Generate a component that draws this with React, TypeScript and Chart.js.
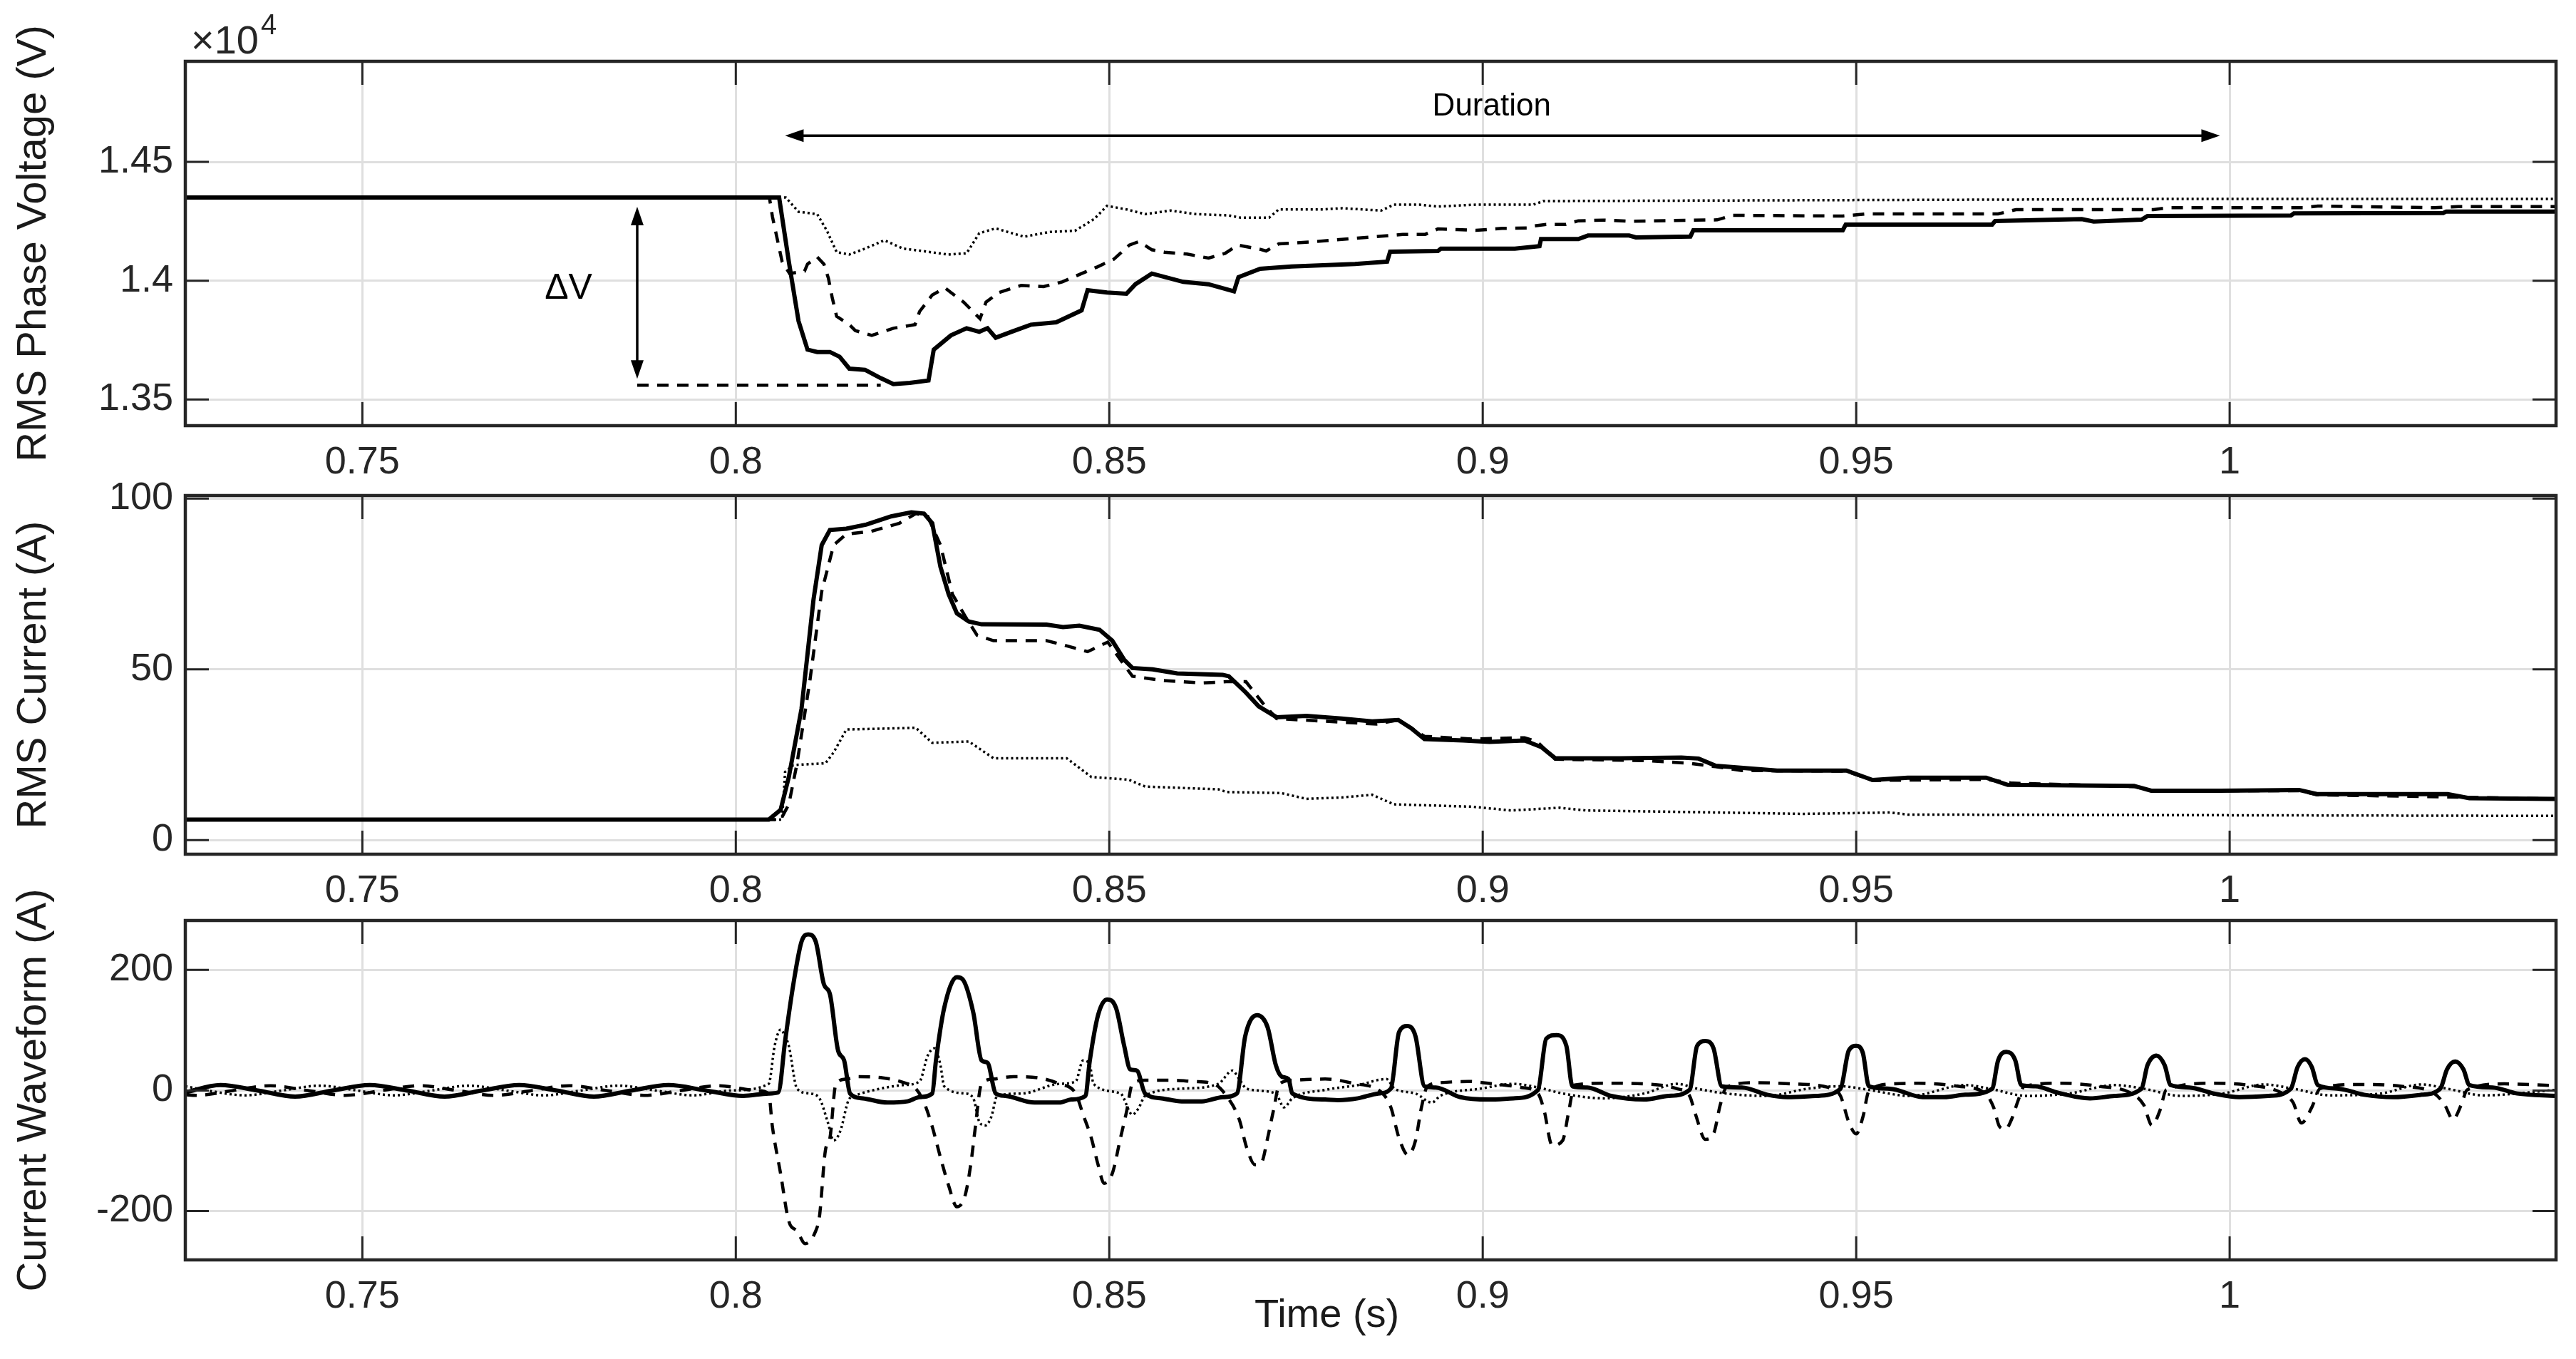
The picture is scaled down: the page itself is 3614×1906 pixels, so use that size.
import { useEffect, useRef } from "react";
import { Chart, registerables } from "chart.js";

Chart.register(...registerables);

const FONT = "'Liberation Sans', Arial, Helvetica, sans-serif";
const INK = "#262626";
const GRID = "#dfdfdf";
const W = 3614;

type Pt = [number, number];
type LineKind = "solid" | "dashed" | "dotted";

// shared time axis
const X_MIN = 0.7263;
const X_MAX = 1.0437;
const timeTicks = [0.75, 0.8, 0.85, 0.9, 0.95, 1];

// ---- panel 1: RMS phase voltage (V) ----
const voltTicks = [13500, 14000, 14500];
const voltSolid: Pt[] = [
  [0.7263, 14350], [0.8058, 14350], [0.8071, 14080], [0.8084, 13830], [0.8096, 13710], [0.8109, 13700],
  [0.8126, 13700], [0.8139, 13680], [0.8152, 13630], [0.8173, 13625], [0.8194, 13590], [0.8211, 13565],
  [0.8233, 13570], [0.8258, 13580], [0.8265, 13710], [0.8288, 13770], [0.8309, 13800], [0.8326, 13785],
  [0.8337, 13800], [0.8348, 13760], [0.8369, 13785], [0.8395, 13815], [0.8429, 13825], [0.8463, 13875],
  [0.8471, 13960], [0.8497, 13950], [0.8523, 13945], [0.8535, 13985], [0.8557, 14030], [0.8599, 13995],
  [0.8633, 13985], [0.8667, 13955], [0.8673, 14015], [0.8702, 14050], [0.8744, 14060], [0.8829, 14070],
  [0.8872, 14080], [0.8876, 14122], [0.894, 14125], [0.8944, 14135], [0.9043, 14135], [0.9076, 14145],
  [0.9078, 14175], [0.9128, 14175], [0.9141, 14190], [0.9196, 14190], [0.9205, 14182], [0.9278, 14186],
  [0.9282, 14212], [0.9482, 14212], [0.9486, 14236], [0.9682, 14236], [0.9686, 14251], [0.9802, 14259],
  [0.9818, 14249], [0.9882, 14257], [0.989, 14272], [1.0082, 14274], [1.0086, 14283], [1.0286, 14285],
  [1.029, 14291], [1.0437, 14291],
];
const voltDashed: Pt[] = [
  [0.7263, 14350], [0.8045, 14350], [0.8049, 14270], [0.8062, 14080], [0.8072, 14030], [0.8092, 14040],
  [0.8096, 14070], [0.8109, 14100], [0.8118, 14070], [0.8124, 14010], [0.8129, 13930], [0.8135, 13850],
  [0.8152, 13815], [0.816, 13790], [0.8182, 13770], [0.8211, 13800], [0.824, 13815], [0.8246, 13870],
  [0.8263, 13940], [0.828, 13970], [0.8288, 13950], [0.8305, 13910], [0.8327, 13840], [0.8335, 13910],
  [0.8352, 13950], [0.8382, 13980], [0.8412, 13975], [0.8437, 13995], [0.8463, 14030], [0.8484, 14058],
  [0.8506, 14090], [0.8527, 14150], [0.854, 14165], [0.8557, 14130], [0.8574, 14120], [0.8604, 14112],
  [0.8633, 14095], [0.8655, 14115], [0.8672, 14150], [0.8702, 14132], [0.871, 14125], [0.8727, 14155],
  [0.8778, 14165], [0.8808, 14173], [0.8864, 14187], [0.8893, 14195], [0.8923, 14195], [0.894, 14218],
  [0.8966, 14215], [0.8991, 14212], [0.9026, 14220], [0.906, 14222], [0.9068, 14230], [0.9085, 14237],
  [0.9111, 14237], [0.9128, 14252], [0.9162, 14255], [0.9196, 14250], [0.9314, 14256], [0.9334, 14275],
  [0.9482, 14272], [0.9514, 14281], [0.969, 14281], [0.9714, 14299], [0.9898, 14299], [0.9918, 14307],
  [1.0098, 14307], [1.0118, 14314], [1.0274, 14307], [1.0306, 14312], [1.0437, 14312],
];
const voltDotted: Pt[] = [
  [0.7263, 14350], [0.8067, 14350], [0.8084, 14290], [0.8109, 14280], [0.8122, 14210], [0.8135, 14120],
  [0.8152, 14110], [0.8173, 14135], [0.8199, 14170], [0.8224, 14135], [0.825, 14125], [0.8284, 14110],
  [0.8309, 14115], [0.8326, 14200], [0.8348, 14220], [0.8386, 14185], [0.842, 14205], [0.8454, 14210],
  [0.848, 14260], [0.8497, 14315], [0.8523, 14300], [0.8548, 14280], [0.8582, 14295], [0.8616, 14280],
  [0.8659, 14275], [0.8676, 14265], [0.8714, 14265], [0.8727, 14300], [0.8786, 14300], [0.8812, 14305],
  [0.8864, 14295], [0.8881, 14320], [0.8915, 14320], [0.894, 14312], [0.8991, 14320], [0.9068, 14320],
  [0.9081, 14335], [0.9786, 14342], [0.9874, 14344], [1.0437, 14344],
];
// annotations (data units)
const durationSpan = [0.8066, 0.9987];
const durationLevel = 14610;
const durationText = [0.9012, 14731];
const deltaVTime = 0.7868;
const deltaVSpan = [13587, 14311];
const deltaVText = [0.7776, 13965];
const dipRef = [0.7868, 0.8194, 13560];

// ---- panel 2: RMS current (A) ----
const ampTicks = [0, 50, 100];
const rmsSolid: Pt[] = [
  [0.7263, 6], [0.8044, 6], [0.806, 8.9], [0.8071, 18.5], [0.8088, 38.5], [0.8104, 70.4], [0.8115, 86.4],
  [0.8126, 90.8], [0.8148, 91.2], [0.8175, 92.4], [0.8208, 94.8], [0.8235, 96], [0.8252, 95.6],
  [0.8263, 92.8], [0.8274, 80], [0.8285, 72], [0.8296, 66.4], [0.8312, 64], [0.8329, 63.2], [0.8416, 63.1],
  [0.8438, 62.4], [0.846, 62.8], [0.8487, 61.6], [0.8504, 58.4], [0.852, 52.8], [0.8531, 50.4],
  [0.8558, 50], [0.8591, 48.8], [0.8652, 48.4], [0.866, 48], [0.8683, 43.2], [0.87, 39.2], [0.8724, 36],
  [0.8764, 36.4], [0.8811, 35.6], [0.8852, 34.8], [0.8887, 35.2], [0.8904, 32.8], [0.8922, 29.6],
  [0.8974, 29.2], [0.9009, 28.8], [0.9056, 29.2], [0.9079, 27.2], [0.9097, 24], [0.9184, 24],
  [0.9266, 24.2], [0.9289, 23.9], [0.9312, 21.8], [0.9394, 20.4], [0.9487, 20.4], [0.9522, 17.6],
  [0.9569, 18.3], [0.9674, 18.3], [0.9703, 16.2], [0.9872, 15.9], [0.9895, 14.5], [0.9988, 14.5],
  [1.0093, 14.7], [1.0117, 13.5], [1.0292, 13.5], [1.0321, 12.3], [1.0437, 12.1],
];
const rmsDashed: Pt[] = [
  [0.7263, 6], [0.806, 6], [0.8071, 10.5], [0.8082, 22.5], [0.8099, 46.4], [0.8115, 72.8], [0.8131, 86.4],
  [0.8148, 89.6], [0.8181, 90.4], [0.8219, 92.8], [0.8241, 95.6], [0.8257, 94.8], [0.8274, 86.4],
  [0.829, 72], [0.8307, 65.6], [0.8323, 60], [0.8345, 58.4], [0.8416, 58.4], [0.8438, 57.2],
  [0.8471, 55.2], [0.8498, 58], [0.8515, 52.8], [0.8531, 48], [0.857, 46.8], [0.8624, 46], [0.8657, 46.4],
  [0.8683, 46.4], [0.8706, 40], [0.8724, 35.6], [0.8858, 34], [0.8887, 35.2], [0.8922, 30.4],
  [0.8986, 29.6], [0.9056, 30], [0.9073, 28.8], [0.9097, 23.7], [0.9219, 23.3], [0.9277, 22.5],
  [0.9312, 21.5], [0.9347, 20.4], [0.9487, 20.2], [0.9522, 17.5], [0.9674, 17.8], [0.9709, 16.7],
  [0.9872, 15.7], [0.9895, 14.5], [1.0093, 14.5], [1.0117, 13.3], [1.0437, 12.1],
];
const rmsDotted: Pt[] = [
  [0.7263, 6], [0.8062, 6], [0.8066, 20], [0.8077, 22], [0.812, 22.5], [0.8131, 25.7], [0.8148, 32.4],
  [0.8241, 32.9], [0.8263, 28.5], [0.8312, 28.9], [0.8345, 24], [0.8443, 24], [0.8476, 18.5],
  [0.8526, 17.7], [0.8548, 15.7], [0.8646, 14.9], [0.8657, 14.1], [0.873, 13.8], [0.8764, 12.1],
  [0.8811, 12.5], [0.8852, 13.3], [0.8881, 10.5], [0.8986, 9.8], [0.9038, 8.7], [0.9103, 9.5],
  [0.9138, 8.7], [0.9289, 8.2], [0.9429, 7.7], [0.9546, 8.1], [0.9569, 7.5], [1.0437, 7.1],
];

// ---- panel 3: current waveform (A) ----
const waveTicks = [-200, 0, 200];
const waveSolid: Pt[] = [
  [0.7263, -3], [0.731, 9], [0.736, 0], [0.741, -10], [0.746, 0], [0.751, 9], [0.756, 0], [0.761, -10],
  [0.766, 0], [0.771, 9], [0.776, 0], [0.781, -10], [0.786, 0], [0.791, 9], [0.796, 0], [0.801, -9],
  [0.8044, -5], [0.8057, -3], [0.8066, 82], [0.8077, 176], [0.8088, 247], [0.8097, 259], [0.8107, 247],
  [0.8118, 176], [0.8126, 160], [0.8137, 66], [0.8145, 50], [0.8153, -5], [0.817, -13], [0.8203, -20],
  [0.823, -18], [0.8246, -11], [0.8263, -5], [0.8268, 50], [0.8279, 137], [0.8296, 188], [0.8304, 184],
  [0.8318, 129], [0.8329, 50], [0.8337, 46], [0.8348, -5], [0.8361, -9], [0.84, -20], [0.8433, -20],
  [0.8449, -15], [0.8468, -9], [0.8474, 50], [0.8485, 125], [0.8497, 151], [0.8509, 137], [0.852, 74],
  [0.8528, 35], [0.8537, 33], [0.8548, -5], [0.857, -13], [0.8597, -18], [0.8624, -18], [0.8652, -11],
  [0.8671, -5], [0.8682, 90], [0.8698, 125], [0.8712, 105], [0.8723, 42], [0.8731, 23], [0.874, 19],
  [0.8745, -5], [0.8789, -15], [0.8806, -16], [0.8833, -13], [0.886, -5], [0.8877, 3], [0.8888, 97],
  [0.8899, 107], [0.891, 90], [0.8922, 7], [0.8937, 5], [0.897, -11], [0.9008, -15], [0.9041, -13],
  [0.9074, 1], [0.9085, 86], [0.9099, 92], [0.9112, 74], [0.912, 7], [0.914, 5], [0.9172, -9],
  [0.9216, -15], [0.9249, -9], [0.9277, 1], [0.9287, 74], [0.9298, 82], [0.9309, 70], [0.932, 7],
  [0.9347, 5], [0.9381, -7], [0.9408, -11], [0.9446, -9], [0.9479, 3], [0.949, 66], [0.95, 74],
  [0.9509, 62], [0.9517, 7], [0.9545, 3], [0.9589, -11], [0.9618, -11], [0.9646, -7], [0.9682, 3],
  [0.969, 50], [0.9701, 64], [0.9713, 50], [0.9721, 9], [0.974, 7], [0.9768, -3], [0.9813, -13],
  [0.9846, -9], [0.9882, 3], [0.989, 42], [0.9902, 58], [0.9913, 42], [0.9921, 9], [0.9946, 5],
  [0.9979, -5], [1.0013, -11], [1.0052, -9], [1.0082, 3], [1.0091, 39], [1.0101, 52], [1.011, 39],
  [1.0118, 9], [1.0146, 3], [1.018, -7], [1.0219, -11], [1.0257, -7], [1.0282, 3], [1.0291, 35],
  [1.0302, 48], [1.0313, 35], [1.0321, 9], [1.0352, 5], [1.0385, -5], [1.0437, -9],
];
const waveDashed: Pt[] = [
  [0.7263, -7], [0.7277, -8], [0.7327, 0], [0.7377, 8], [0.7427, 0], [0.7477, -8], [0.7527, 0],
  [0.7577, 8], [0.7627, 0], [0.7677, -8], [0.7727, 0], [0.7777, 8], [0.7827, 0], [0.7877, -8],
  [0.7927, 0], [0.7977, 8], [0.8027, 0], [0.8044, -5], [0.8049, -60], [0.806, -138], [0.8071, -217],
  [0.8082, -233], [0.8093, -254], [0.8107, -233], [0.8112, -209], [0.812, -99], [0.8126, -79],
  [0.8134, 11], [0.8148, 19], [0.8164, 23], [0.8197, 21], [0.8225, 13], [0.8241, 3], [0.8252, -20],
  [0.8263, -60], [0.8274, -111], [0.8285, -158], [0.8296, -193], [0.8307, -174], [0.8315, -119],
  [0.832, -68], [0.8329, 11], [0.8345, 19], [0.8372, 23], [0.8405, 21], [0.8433, 11], [0.8455, -5],
  [0.8465, -40], [0.8476, -79], [0.8485, -123], [0.8493, -154], [0.8504, -138], [0.8515, -79],
  [0.8523, -36], [0.8531, 11], [0.8548, 17], [0.858, 17], [0.8613, 15], [0.864, 11], [0.8657, -9],
  [0.8674, -48], [0.8684, -95], [0.8695, -123], [0.8704, -119], [0.8712, -79], [0.872, -32],
  [0.8728, 11], [0.8745, 17], [0.8789, 19], [0.8826, 12], [0.8866, -5], [0.8877, -28], [0.8888, -79],
  [0.89, -107], [0.891, -83], [0.8918, -28], [0.8926, 7], [0.8943, 13], [0.8981, 15], [0.9014, 11],
  [0.9052, 5], [0.9074, -5], [0.9082, -32], [0.9093, -91], [0.9107, -83], [0.9115, -36], [0.9123, 9],
  [0.9162, 12], [0.9216, 11], [0.926, 3], [0.9277, -9], [0.9285, -40], [0.9298, -81], [0.9309, -72],
  [0.9318, -24], [0.9326, 5], [0.9364, 13], [0.9414, 11], [0.9463, 5], [0.9479, -9], [0.949, -52],
  [0.95, -72], [0.9509, -44], [0.9517, -1], [0.955, 11], [0.9583, 12], [0.9637, 7], [0.9673, -5],
  [0.9684, -28], [0.9692, -60], [0.97, -64], [0.9708, -48], [0.9717, -16], [0.9725, 7], [0.9775, 12],
  [0.9825, 7], [0.9869, -5], [0.9885, -24], [0.9896, -58], [0.9907, -32], [0.9915, 1], [0.9979, 12],
  [1.0024, 9], [1.0068, -3], [1.0085, -20], [1.0096, -54], [1.011, -28], [1.0121, 3], [1.0174, 10],
  [1.023, 7], [1.0274, -5], [1.0288, -24], [1.0299, -48], [1.031, -24], [1.0318, 1], [1.0368, 11],
  [1.0437, 8],
];
const waveDotted: Pt[] = [
  [0.7263, 7], [0.7293, 0], [0.7343, -8], [0.7393, 0], [0.7443, 8], [0.7493, 0], [0.7543, -8],
  [0.7593, 0], [0.7643, 8], [0.7693, 0], [0.7743, -8], [0.7793, 0], [0.7843, 8], [0.7893, 0],
  [0.7943, -8], [0.7993, 0], [0.8044, 11], [0.8052, 74], [0.806, 101], [0.8066, 90], [0.8071, 74],
  [0.8082, 3], [0.8099, -5], [0.8112, -13], [0.8123, -52], [0.8131, -83], [0.814, -67], [0.8151, -16],
  [0.8159, -9], [0.8186, 1], [0.8225, 9], [0.8246, 15], [0.8257, 58], [0.8266, 70], [0.8274, 42],
  [0.8279, 7], [0.8307, -5], [0.8318, -13], [0.8326, -52], [0.8334, -58], [0.8342, -44], [0.835, -9],
  [0.8383, -5], [0.8433, 11], [0.8455, 15], [0.8465, 50], [0.8474, 42], [0.8479, 11], [0.8515, -5],
  [0.8531, -40], [0.8539, -30], [0.8548, -9], [0.8597, 3], [0.8646, 11], [0.8665, 33], [0.8674, 19],
  [0.8684, 3], [0.8723, -5], [0.8734, -28], [0.8745, -13], [0.8789, 1], [0.8833, 9], [0.8871, 19],
  [0.8882, 3], [0.891, -5], [0.8932, -20], [0.8943, -9], [0.8997, 3], [0.9041, 11], [0.9074, 5],
  [0.9107, -5], [0.9162, -13], [0.9216, -5], [0.926, 11], [0.9287, 3], [0.9326, -5], [0.9381, -9],
  [0.9435, 3], [0.9479, 7], [0.9517, 1], [0.9572, -9], [0.9646, 9], [0.9679, 3], [0.9729, -9],
  [0.9785, -5], [0.9846, 9], [0.9885, 3], [0.9935, -9], [0.9991, -5], [1.0046, 10], [1.0085, 3],
  [1.0135, -8], [1.0202, -5], [1.0257, 10], [1.0291, 3], [1.0341, -8], [1.0437, 1],
];

const LINE: Record<LineKind, { borderWidth: number; borderDash: number[] }> = {
  solid: { borderWidth: 6, borderDash: [] },
  dashed: { borderWidth: 4.5, borderDash: [16, 12] },
  dotted: { borderWidth: 3.5, borderDash: [3, 4] },
};

// box round the plot area plus MATLAB-style inward ticks
const framePlugin = {
  id: "frame",
  afterDraw(chart: any) {
    const { ctx, chartArea: a, scales } = chart;
    const len = 33;
    ctx.save();
    ctx.strokeStyle = INK;
    ctx.lineWidth = 3;
    ctx.beginPath();
    for (const t of scales.x.ticks) {
      const px = scales.x.getPixelForValue(t.value);
      ctx.moveTo(px, a.top);
      ctx.lineTo(px, a.top + len);
      ctx.moveTo(px, a.bottom);
      ctx.lineTo(px, a.bottom - len);
    }
    for (const t of scales.y.ticks) {
      const py = scales.y.getPixelForValue(t.value);
      ctx.moveTo(a.left, py);
      ctx.lineTo(a.left + len, py);
      ctx.moveTo(a.right, py);
      ctx.lineTo(a.right - len, py);
    }
    ctx.stroke();
    ctx.lineWidth = 4.5;
    ctx.strokeRect(a.left, a.top, a.right - a.left, a.bottom - a.top);
    ctx.restore();
  },
};

function head(ctx: CanvasRenderingContext2D, x: number, y: number, dx: number, dy: number) {
  const L = 26;
  const H = 9;
  ctx.beginPath();
  ctx.moveTo(x, y);
  ctx.lineTo(x - dx * L - dy * H, y - dy * L + dx * H);
  ctx.lineTo(x - dx * L + dy * H, y - dy * L - dx * H);
  ctx.closePath();
  ctx.fill();
}

const voltNotes = {
  id: "voltNotes",
  afterDatasetsDraw(chart: any) {
    const { ctx, scales } = chart;
    const { x, y } = scales;
    ctx.save();
    ctx.strokeStyle = "#000";
    ctx.fillStyle = "#000";
    // dashed reference at the voltage dip
    ctx.lineWidth = 4.5;
    ctx.setLineDash([16, 12]);
    ctx.beginPath();
    ctx.moveTo(x.getPixelForValue(dipRef[0]), y.getPixelForValue(dipRef[2]));
    ctx.lineTo(x.getPixelForValue(dipRef[1]), y.getPixelForValue(dipRef[2]));
    ctx.stroke();
    ctx.setLineDash([]);
    // duration arrow
    ctx.lineWidth = 3.5;
    const dY = y.getPixelForValue(durationLevel);
    const d0 = x.getPixelForValue(durationSpan[0]);
    const d1 = x.getPixelForValue(durationSpan[1]);
    ctx.beginPath();
    ctx.moveTo(d0 + 10, dY);
    ctx.lineTo(d1 - 10, dY);
    ctx.stroke();
    head(ctx, d0, dY, -1, 0);
    head(ctx, d1, dY, 1, 0);
    // delta V arrow
    const vX = x.getPixelForValue(deltaVTime);
    const v0 = y.getPixelForValue(deltaVSpan[0]);
    const v1 = y.getPixelForValue(deltaVSpan[1]);
    ctx.beginPath();
    ctx.moveTo(vX, v0 - 10);
    ctx.lineTo(vX, v1 + 10);
    ctx.stroke();
    head(ctx, vX, v0, 0, 1);
    head(ctx, vX, v1, 0, -1);
    ctx.textAlign = "center";
    ctx.textBaseline = "middle";
    ctx.font = `44px ${FONT}`;
    ctx.fillText("Duration", x.getPixelForValue(durationText[0]), y.getPixelForValue(durationText[1]));
    ctx.font = `50px ${FONT}`;
    ctx.fillText("ΔV", x.getPixelForValue(deltaVText[0]), y.getPixelForValue(deltaVText[1]));
    ctx.restore();
  },
  afterDraw(chart: any) {
    const { ctx, chartArea: a } = chart;
    ctx.save();
    ctx.fillStyle = INK;
    ctx.textAlign = "left";
    ctx.textBaseline = "alphabetic";
    ctx.font = `56px ${FONT}`;
    const base = "×10";
    const bx = a.left + 8;
    const by = a.top - 11;
    ctx.fillText(base, bx, by);
    const w = ctx.measureText(base).width;
    ctx.font = `40px ${FONT}`;
    ctx.fillText("4", bx + w + 3, by - 27);
    ctx.restore();
  },
};

const timeLabel = {
  id: "timeLabel",
  afterDraw(chart: any) {
    const { ctx } = chart;
    ctx.save();
    ctx.fillStyle = "#1a1a1a";
    ctx.font = `56px ${FONT}`;
    ctx.textAlign = "left";
    ctx.textBaseline = "alphabetic";
    ctx.fillText("Time (s)", 1760, 661);
    ctx.restore();
  },
};

type Trace = { pts: Pt[]; kind: LineKind };

function Panel(props: {
  top: number;
  height: number;
  padTop: number;
  xHeight: number;
  yMin: number;
  yMax: number;
  yTicks: number[];
  yFormat: (v: number) => string;
  yTitle: string;
  traces: Trace[];
  smooth?: boolean;
  extra?: any[];
}) {
  const ref = useRef<HTMLCanvasElement>(null);
  const { top, height, padTop, xHeight, yMin, yMax, yTicks, yFormat, yTitle, traces, smooth, extra } = props;

  useEffect(() => {
    if (!ref.current) return;
    const tickFont = { family: FONT, size: 54 };
    const chart = new Chart(ref.current, {
      type: "line",
      data: {
        datasets: traces.map((t) => ({
          data: t.pts.map(([x, y]) => ({ x, y })),
          borderColor: "#000",
          borderWidth: LINE[t.kind].borderWidth,
          borderDash: LINE[t.kind].borderDash,
          pointRadius: 0,
          fill: false,
          tension: 0,
          cubicInterpolationMode: smooth ? "monotone" : "default",
        })),
      },
      options: {
        responsive: false,
        animation: false,
        events: [],
        layout: { padding: { top: padTop, right: 28, left: 0, bottom: 0 } },
        plugins: { legend: { display: false }, tooltip: { enabled: false } },
        scales: {
          x: {
            type: "linear",
            min: X_MIN,
            max: X_MAX,
            afterBuildTicks: (s: any) => {
              s.ticks = timeTicks.map((value) => ({ value }));
            },
            afterFit: (s: any) => {
              s.height = xHeight;
            },
            grid: { color: GRID, lineWidth: 3, drawTicks: false },
            border: { display: false },
            ticks: {
              autoSkip: false,
              maxRotation: 0,
              padding: 20,
              color: INK,
              font: tickFont,
              callback: (v: any) => String(v),
            },
          },
          y: {
            type: "linear",
            min: yMin,
            max: yMax,
            afterBuildTicks: (s: any) => {
              s.ticks = yTicks.map((value) => ({ value }));
            },
            afterFit: (s: any) => {
              s.width = 260;
            },
            grid: { color: GRID, lineWidth: 3, drawTicks: false },
            border: { display: false },
            ticks: { padding: 17, color: INK, font: tickFont, callback: (v: any) => yFormat(Number(v)) },
            title: {
              display: true,
              text: yTitle,
              color: "#1a1a1a",
              font: { family: FONT, size: 58 },
              padding: { top: 13, bottom: 0 },
            },
          },
        },
      },
      plugins: [framePlugin, ...(extra ?? [])],
    } as any);
    return () => chart.destroy();
  }, []);

  return (
    <canvas
      ref={ref}
      width={W}
      height={height}
      style={{ position: "absolute", left: 0, top, width: W, height }}
    />
  );
}

export default function App() {
  return (
    <div
      style={{
        position: "fixed",
        left: 0,
        top: 0,
        width: W,
        height: 1906,
        background: "#fff",
        overflow: "hidden",
      }}
    >
      <Panel
        top={0}
        height={700}
        padTop={86}
        xHeight={103}
        yMin={13390}
        yMax={14923}
        yTicks={voltTicks}
        yFormat={(v) => String(v / 10000)}
        yTitle="RMS Phase Voltage (V)"
        traces={[
          { pts: voltSolid, kind: "solid" },
          { pts: voltDashed, kind: "dashed" },
          { pts: voltDotted, kind: "dotted" },
        ]}
        extra={[voltNotes]}
      />
      <Panel
        top={620}
        height={680}
        padTop={75}
        xHeight={102}
        yMin={-4.1}
        yMax={100.9}
        yTicks={ampTicks}
        yFormat={(v) => String(v)}
        yTitle="RMS Current (A)"
        traces={[
          { pts: rmsSolid, kind: "solid" },
          { pts: rmsDashed, kind: "dashed" },
          { pts: rmsDotted, kind: "dotted" },
        ]}
      />
      <Panel
        top={1200}
        height={706}
        padTop={91}
        xHeight={139}
        yMin={-281}
        yMax={282}
        yTicks={waveTicks}
        yFormat={(v) => String(v)}
        yTitle="Current Waveform (A)"
        smooth
        traces={[
          { pts: waveSolid, kind: "solid" },
          { pts: waveDashed, kind: "dashed" },
          { pts: waveDotted, kind: "dotted" },
        ]}
        extra={[timeLabel]}
      />
    </div>
  );
}
